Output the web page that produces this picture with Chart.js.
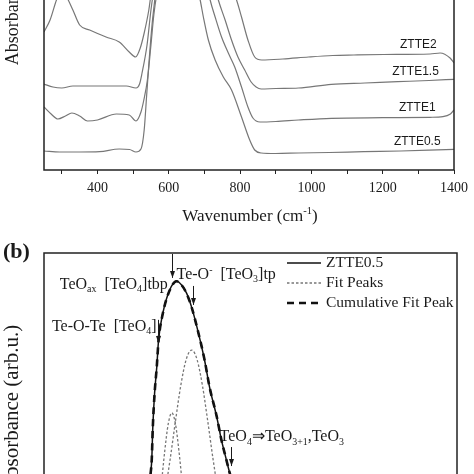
<!DOCTYPE html>
<html>
<head>
<meta charset="utf-8">
<script src="https://cdn.jsdelivr.net/npm/chart.js@4.4.0/dist/chart.umd.min.js"></script>
<style>
  html, body { margin: 0; padding: 0; background: #fff; width: 474px; height: 474px; overflow: hidden; position: relative; }
  #panelA { position: absolute; left: 0; top: -220px; }
  #panelB { position: absolute; left: 0; top: 230px; }
</style>
</head>
<body>
<canvas id="panelA" width="474" height="450"></canvas>
<canvas id="panelB" width="474" height="420"></canvas>
<script>
// ---- panel (a): IR spectra, absorbance in arbitrary units ----
const wn05 = [250, 294, 350, 406, 461, 490, 508, 522, 531, 538, 546, 553, 560, 570, 610, 650, 688, 697, 711, 730, 753, 776, 804, 827, 841, 859, 900, 964, 1050, 1147, 1250, 1330, 1400];
const abs05 = [19, 18, 18, 18.3, 21, 20.5, 18, 21, 40, 75, 115, 145, 168, 200, 240, 225, 170, 153, 130, 110, 93, 80, 53, 30, 20, 17, 16.5, 17, 17.5, 18.3, 19, 19.8, 20.7];

const wn1 = [250, 270, 289, 310, 328, 350, 372, 400, 453, 489, 508, 522, 530, 540, 550, 558, 566, 590, 640, 690, 716, 730, 748, 767, 785, 804, 822, 836, 856, 900, 964, 1056, 1200, 1333, 1369, 1390, 1400];
const abs1 = [63, 56, 51, 54, 57, 54, 49, 50, 56, 55, 49, 58, 70, 90, 125, 155, 175, 215, 255, 215, 170, 153, 133, 117, 103, 83, 63, 52, 48, 48.5, 50, 51.7, 52.3, 52.7, 53.3, 56, 60];

const wn15 = [250, 275, 300, 331, 378, 430, 481, 508, 518, 525, 539, 550, 556, 580, 640, 700, 739, 758, 776, 794, 813, 831, 845, 859, 900, 964, 1056, 1150, 1242, 1330, 1400];
const abs15 = [86, 83, 82, 84, 84, 84, 84, 82, 86, 97, 125, 160, 175, 215, 260, 225, 170, 150, 130, 113, 100, 88, 83, 81, 81.5, 82, 85.7, 87, 88.3, 89.5, 90.7];

const wn2 = [250, 267, 285, 300, 318, 331, 350, 378, 424, 461, 489, 507, 520, 531, 544, 550, 580, 640, 720, 790, 804, 822, 841, 861, 920, 992, 1060, 1119, 1203, 1333, 1361, 1389, 1400];
const abs2 = [138, 150, 170, 182, 170, 160, 145, 140, 133, 128, 118, 113, 122, 137, 160, 175, 220, 270, 230, 170, 153, 130, 113, 110, 111, 113, 114.5, 115, 115.5, 116, 117, 112, 107];

const sampleNames = ['ZTTE2', 'ZTTE1.5', 'ZTTE1', 'ZTTE0.5'];
const xTicksMajor = 200;

// ---- panel (b): ZTTE0.5 deconvolution ----
const mainWn = [480, 500, 520, 535, 547, 550, 553, 558, 564, 569, 581, 600, 619, 633, 647, 661, 678, 697, 711, 731, 744, 758, 767, 785, 810, 850, 900, 1000, 1100];
const mainAbs = [0.003, 0.013, 0.061, 0.141, 0.293, 0.334, 0.441, 0.550, 0.633, 0.720, 0.807, 0.881, 0.910, 0.897, 0.871, 0.826, 0.752, 0.656, 0.569, 0.473, 0.399, 0.334, 0.293, 0.222, 0.141, 0.061, 0.019, 0.006, 0.004];
const sumWn = [480, 500, 520, 535, 547, 550, 553, 558, 564, 569, 581, 600, 619, 633, 647, 661, 678, 697, 711, 731, 744, 758, 767, 785, 810, 850, 900, 1000, 1100];
const sumAbs = [0.004, 0.014, 0.062, 0.142, 0.292, 0.335, 0.440, 0.549, 0.634, 0.719, 0.806, 0.880, 0.909, 0.897, 0.870, 0.826, 0.752, 0.657, 0.569, 0.474, 0.399, 0.334, 0.293, 0.222, 0.141, 0.061, 0.019, 0.006, 0.004];
const peakAWn = [501, 531, 561, 581, 601, 616, 631, 646, 661, 676, 691, 706, 721, 741, 761, 791, 821];
const peakAAbs = [0.004, 0.023, 0.093, 0.191, 0.335, 0.459, 0.575, 0.658, 0.688, 0.658, 0.575, 0.459, 0.335, 0.191, 0.093, 0.023, 0.004];
const peakBWn = [531, 551, 566, 576, 586, 596, 606, 616, 626, 636, 646, 661, 681];
const peakBAbs = [0.007, 0.051, 0.147, 0.248, 0.361, 0.451, 0.486, 0.451, 0.361, 0.248, 0.147, 0.051, 0.007];

const SERIF = "'Liberation Serif', 'Times New Roman', serif";
const SANS = "'Liberation Sans', Arial, sans-serif";
const INK = '#1a1a1a';

function pts(xs, ys) {
  return xs.map((x, i) => ({ x: x, y: ys[i] }));
}

function richWidth(ctx, parts, size) {
  let w = 0;
  parts.forEach(p => {
    ctx.font = (p[1] ? size * 0.62 : size) + 'px ' + SERIF;
    w += ctx.measureText(p[0]).width;
  });
  return w;
}

// text with sub/superscripts, left aligned, vertically centred on y
function drawRich(ctx, x, y, parts, size) {
  ctx.textBaseline = 'middle';
  ctx.textAlign = 'left';
  ctx.fillStyle = INK;
  parts.forEach(p => {
    const s = p[1] ? size * 0.62 : size;
    ctx.font = s + 'px ' + SERIF;
    let dy = 0;
    if (p[1] === 'sub') dy = size * 0.3;
    if (p[1] === 'sup') dy = -size * 0.32;
    ctx.fillText(p[0], x, y + dy);
    x += ctx.measureText(p[0]).width;
  });
}

const frame = {
  id: 'frame',
  afterDraw(chart) {
    const a = chart.chartArea, ctx = chart.ctx;
    ctx.save();
    ctx.strokeStyle = '#222';
    ctx.lineWidth = 1.5;
    ctx.strokeRect(a.left, a.top, a.right - a.left, a.bottom - a.top);
    ctx.restore();
  }
};

function lineSet(label, xs, ys, color, width, dash) {
  return {
    label: label,
    data: pts(xs, ys),
    borderColor: color,
    borderWidth: width,
    borderDash: dash || [],
    pointRadius: 0,
    fill: false,
    cubicInterpolationMode: 'monotone'
  };
}

// ---------- panel (a) ----------
const curveLabelPos = [[1300, 125], [1292, 98], [1297, 62], [1297, 28]];

const panelALabels = {
  id: 'panelALabels',
  afterDraw(chart) {
    const ctx = chart.ctx, xs = chart.scales.x, ys = chart.scales.y;
    ctx.save();
    ctx.fillStyle = INK;
    ctx.font = '12px ' + SANS;
    ctx.textAlign = 'center';
    ctx.textBaseline = 'middle';
    sampleNames.forEach((name, i) => {
      ctx.fillText(name, xs.getPixelForValue(curveLabelPos[i][0]), ys.getPixelForValue(curveLabelPos[i][1]));
    });
    // x axis title with superscript
    const parts = [['Wavenumber (cm', ''], ['-1', 'sup'], [')', '']];
    const w = richWidth(ctx, parts, 17);
    drawRich(ctx, (chart.chartArea.left + chart.chartArea.right) / 2 - w / 2 + 1, xs.bottom - 13, parts, 17);
    ctx.restore();
  }
};

new Chart(document.getElementById('panelA'), {
  type: 'line',
  data: {
    datasets: [
      lineSet('ZTTE2', wn2, abs2, '#777', 1.2),
      lineSet('ZTTE1.5', wn15, abs15, '#777', 1.2),
      lineSet('ZTTE1', wn1, abs1, '#777', 1.2),
      lineSet('ZTTE0.5', wn05, abs05, '#777', 1.2)
    ]
  },
  options: {
    responsive: false,
    animation: false,
    devicePixelRatio: 1,
    layout: { padding: { top: 37, right: 17, left: 0, bottom: 0 } },
    plugins: { legend: { display: false }, tooltip: { enabled: false } },
    scales: {
      x: {
        type: 'linear', min: 250, max: 1400,
        ticks: {
          stepSize: 100, includeBounds: false, autoSkip: false, maxRotation: 0, padding: 6,
          color: INK, font: { family: SERIF, size: 14 },
          callback: v => (v % xTicksMajor === 0 ? v : '')
        },
        grid: { drawOnChartArea: false, drawTicks: true, tickLength: 4, color: '#222', lineWidth: 1 },
        border: { display: false },
        afterFit: s => { s.height = 60; }
      },
      y: {
        min: 0, max: 353,
        ticks: { display: false },
        grid: { display: false },
        border: { display: false },
        title: { display: true, text: 'Absorbance (arb.u.)', color: INK, font: { family: SERIF, size: 18 }, padding: { top: 2, bottom: 0 } },
        afterFit: s => { s.width = 44; }
      }
    }
  },
  plugins: [frame, panelALabels]
});

// ---------- panel (b) ----------
const notes = [
  { x: 294, y: 0.897, parts: [['TeO', ''], ['ax', 'sub'], ['  [TeO', ''], ['4', 'sub'], [']tbp', '']] },
  { x: 619, y: 0.929, parts: [['Te-O', ''], ['-', 'sup'], ['  [TeO', ''], ['3', 'sub'], [']tp', '']] },
  { x: 272, y: 0.762, parts: [['Te-O-Te  [TeO', ''], ['4', 'sub'], [']', '']] },
  { x: 739, y: 0.408, parts: [['TeO', ''], ['4', 'sub'], ['\u21D2TeO', ''], ['3+1', 'sub'], [',TeO', ''], ['3', 'sub']] }
];
const arrows = [
  { x: 606, from: 0.997, to: 0.920 },
  { x: 664, from: 0.894, to: 0.833 },
  { x: 567, from: 0.785, to: 0.711 },
  { x: 772, from: 0.376, to: 0.315 }
];
const legendRows = [['ZTTE0.5', 1], ['Fit Peaks', 2], ['Cumulative Fit Peak', 0]];

const panelBNotes = {
  id: 'panelBNotes',
  afterDraw(chart) {
    const ctx = chart.ctx, xs = chart.scales.x, ys = chart.scales.y, a = chart.chartArea;
    ctx.save();
    notes.forEach(n => drawRich(ctx, xs.getPixelForValue(n.x), ys.getPixelForValue(n.y), n.parts, 16));
    ctx.strokeStyle = INK;
    ctx.lineWidth = 1;
    arrows.forEach(ar => {
      const px = Math.round(xs.getPixelForValue(ar.x)) + 0.5;
      const y0 = ys.getPixelForValue(ar.from), y1 = ys.getPixelForValue(ar.to);
      ctx.beginPath();
      ctx.moveTo(px, y0);
      ctx.lineTo(px, y1);
      ctx.stroke();
      ctx.beginPath();
      ctx.moveTo(px - 2.5, y1 - 7);
      ctx.lineTo(px, y1);
      ctx.lineTo(px + 2.5, y1 - 7);
      ctx.closePath();
      ctx.fillStyle = INK;
      ctx.fill();
    });
    // legend
    legendRows.forEach((row, i) => {
      const ds = chart.data.datasets[row[1]];
      const y = a.top + 10 + i * 20;
      ctx.beginPath();
      ctx.strokeStyle = ds.borderColor;
      ctx.lineWidth = ds.borderWidth;
      ctx.setLineDash(ds.borderDash);
      ctx.moveTo(a.right - 170, y);
      ctx.lineTo(a.right - 136, y);
      ctx.stroke();
      ctx.setLineDash([]);
      ctx.fillStyle = INK;
      ctx.font = '15.5px ' + SERIF;
      ctx.textAlign = 'left';
      ctx.textBaseline = 'middle';
      ctx.fillText(row[0], a.right - 131, y);
    });
    // panel letter
    ctx.font = 'bold 22px ' + SERIF;
    ctx.textBaseline = 'middle';
    ctx.fillText('(b)', 3, 22);
    ctx.restore();
  }
};

new Chart(document.getElementById('panelB'), {
  type: 'line',
  data: {
    datasets: [
      lineSet('Cumulative Fit Peak', sumWn, sumAbs, '#111', 2.6, [7, 5]),
      lineSet('ZTTE0.5', mainWn, mainAbs, '#111', 1.5),
      lineSet('Fit Peaks', peakAWn, peakAAbs, '#777', 1.3, [2.5, 2]),
      lineSet('Fit Peaks', peakBWn, peakBAbs, '#777', 1.3, [2.5, 2])
    ]
  },
  options: {
    responsive: false,
    animation: false,
    devicePixelRatio: 1,
    layout: { padding: { top: 23, right: 17, left: 0, bottom: 86 } },
    plugins: { legend: { display: false }, tooltip: { enabled: false } },
    scales: {
      x: { type: 'linear', min: 250, max: 1400, display: false },
      y: {
        min: 0, max: 1,
        ticks: { display: false },
        grid: { display: false },
        border: { display: false },
        title: { display: true, text: 'Absorbance (arb.u.)', color: INK, font: { family: SERIF, size: 21 }, padding: { top: 0, bottom: 0 } },
        afterFit: s => { s.width = 44; }
      }
    }
  },
  plugins: [frame, panelBNotes]
});
</script>
</body>
</html>
